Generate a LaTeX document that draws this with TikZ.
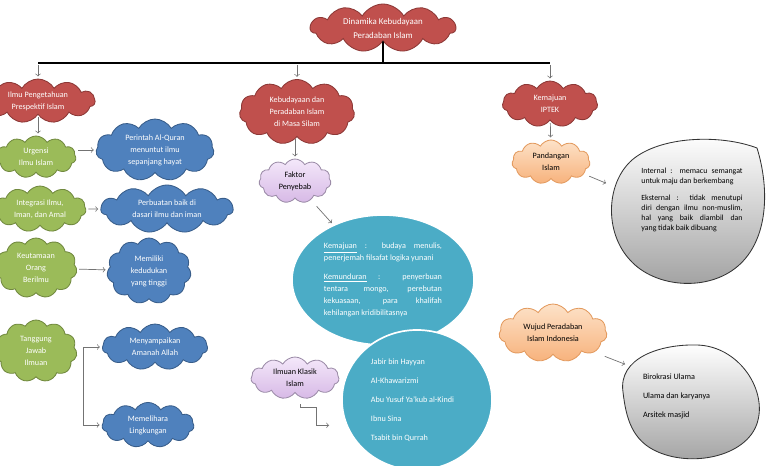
\documentclass[tikz,border=0pt]{standalone}
\usepackage{fontspec}
\setmainfont{Carlito}
\usepackage{tikz}
\usetikzlibrary{shapes.symbols,shapes.geometric,arrows}
\definecolor{merahisi}{HTML}{C0504D}
\definecolor{merahgaris}{HTML}{8C3836}
\definecolor{hijauisi}{HTML}{9BBB59}
\definecolor{hijaugaris}{HTML}{71893F}
\definecolor{biruisi}{HTML}{4F81BD}
\definecolor{birugaris}{HTML}{385D8A}
\definecolor{unguatas}{HTML}{F4E8FA}
\definecolor{ungubawah}{HTML}{D7B9E6}
\definecolor{ungugaris}{HTML}{9C8CA8}
\definecolor{oranyeatas}{HTML}{FDE2C8}
\definecolor{oranyebawah}{HTML}{F7B27C}
\definecolor{oranyegaris}{HTML}{E39A5E}
\definecolor{toscaisi}{HTML}{4BACC6}
\newcommand\kecil{\fontsize{5.8}{8.5}\selectfont}
\newcommand\sedang{\fontsize{6.3}{10}\selectfont}
\newcommand\rapat{\fontsize{5.6}{7.2}\selectfont}
\tikzset{
  awan/.style={cloud,cloud puffs=11,cloud puff arc=120,cloud ignores aspect,draw,line width=0.6pt,align=center,inner sep=0pt,font=\kecil},
  merah/.style={awan,fill=merahisi,draw=merahgaris,text=white},
  hijau/.style={awan,fill=hijauisi,draw=hijaugaris,text=white},
  biru/.style={awan,fill=biruisi,draw=birugaris,text=white},
  ungu/.style={awan,top color=unguatas,bottom color=ungubawah,draw=ungugaris},
  oranye/.style={awan,top color=oranyeatas,bottom color=oranyebawah,draw=oranyegaris},
  tosca/.style={ellipse,fill=toscaisi,draw=white,line width=1.2pt,text=white,font=\kecil,inner sep=0pt},
  abuabu/.style={top color=white,bottom color=black!38,draw=black!80,line width=0.6pt},
  panah/.style={->,draw=black!55,line width=0.5pt,shorten >=1.5pt,shorten <=1.5pt},
  garis/.style={draw=black,line width=1.1pt},
}
\begin{document}
\begin{tikzpicture}[x=0.025cm,y=-0.025cm]
    \useasboundingbox (0,0) rectangle (768,466);
    \node[merah,minimum width=3.63cm,minimum height=1.2cm,font=\sedang] (dinamika) at (383,28) {Dinamika Kebudayaan\\Peradaban Islam};
    \coordinate (bagi) at (383,63);
    \node[merah,minimum width=2.85cm,minimum height=1.1cm] (ilmu) at (38,101) {Ilmu Pengetahuan\\Prespektif Islam};
    \node[merah,minimum width=2.88cm,minimum height=1.63cm] (budaya) at (297,112) {Kebudayaan dan\\Peradaban Islam\\di Masa Silam};
    \node[merah,minimum width=2.38cm,minimum height=1.15cm] (iptek) at (550,104) {Kemajuan\\IPTEK};
    \draw[garis] (dinamika.south) -- (bagi);
    \draw[garis] (ilmu.north |- bagi) -- (iptek.north |- bagi);
    \draw[panah] (ilmu.north |- bagi) -- (ilmu.north);
    \draw[panah] (budaya.north |- bagi) -- (budaya.north);
    \draw[panah] (iptek.north |- bagi) -- (iptek.north);
    % cabang kiri
    \node[hijau,minimum width=2cm,minimum height=1.05cm] (urgensi) at (36,157) {Urgensi\\Ilmu Islam};
    \node[biru,minimum width=2.95cm,minimum height=1.55cm] (perintah) at (155,150) {Perintah Al-Quran\\menuntut ilmu\\sepanjang hayat};
    \node[hijau,minimum width=2.3cm,minimum height=1.15cm] (integrasi) at (40,209) {Integrasi Ilmu,\\Iman, dan Amal};
    \node[biru,minimum width=3.3cm,minimum height=1.2cm] (perbuatan) at (167,209) {Perbuatan baik di\\dasari ilmu dan iman};
    \node[hijau,minimum width=2.05cm,minimum height=1.5cm] (keutamaan) at (36,268) {Keutamaan\\Orang\\Berilmu};
    \node[biru,minimum width=2.1cm,minimum height=1.65cm] (memiliki) at (149,271) {Memiliki\\kedudukan\\yang tinggi};
    \node[hijau,minimum width=2.05cm,minimum height=1.55cm] (tanggung) at (36,351) {Tanggung\\Jawab\\Ilmuan};
    \node[biru,minimum width=2.63cm,minimum height=1.15cm] (amanah) at (155,347) {Menyampaikan\\Amanah Allah};
    \node[biru,minimum width=2.3cm,minimum height=1.13cm] (lingkungan) at (148,425) {Memelihara\\Lingkungan};
    \draw[panah] (ilmu.south) -- (ilmu.south |- urgensi.north);
    \draw[panah] (perintah.west -| urgensi.east) -- (perintah.west);
    \draw[panah] (integrasi) -- (perbuatan);
    \draw[panah] (keutamaan) -- (memiliki);
    \coordinate (tj) at (83,387);
    \draw[panah,shorten <=0pt] (tj) |- (amanah.west);
    \draw[panah,shorten <=0pt] (tj) |- (lingkungan.west);
    % cabang tengah
    \node[ungu,minimum width=1.8cm,minimum height=1.1cm] (faktor) at (295,181) {Faktor\\Penyebab};
    \draw[panah] (faktor.north |- budaya.south) -- (faktor.north);
    \node[tosca,minimum width=4.55cm,minimum height=3.25cm,text width=2.95cm,align=justify] (sebab) at (383,280)
      {\underline{Kemajuan} : budaya menulis,\linebreak penerjemah filsafat logika yunani\par\vspace{5pt}
       \underline{Kemunduran} : penyerbuan\linebreak tentara mongo, perebutan\linebreak kekuasaan, para khalifah\linebreak kehilangan kridibilitasnya};
    \draw[panah,shorten <=6pt] (faktor.-50) -- (sebab.132);
    \node[ungu,minimum width=2.2cm,minimum height=1.05cm] (klasik) at (295,378) {Ilmuan Klasik\\Islam};
    \node[tosca,minimum width=3.75cm,minimum height=3.5cm,text width=2.3cm,align=flush left] (tokoh) at (417,400)
      {Jabir bin Hayyan\\[5pt]Al-Khawarizmi\\[5pt]Abu Yusuf Ya'kub al-Kindi\\[5pt]Ibnu Sina\\[5pt]Tsabit bin Qurrah};
    \draw[panah,shorten <=5pt] (klasik.-75) -- ++(0,10) -| ++(16,18) -- ++(15,0);
    % cabang kanan
    \node[oranye,minimum width=1.95cm,minimum height=1.1cm] (pandangan) at (551,162) {Pandangan\\Islam};
    \draw[panah] (iptek) -- (pandangan);
    \path[abuabu] (757,148) .. controls (770,190) and (768,240) .. (738,266) .. controls (708,292) and (655,288) .. (630,260)
      .. controls (604,232) and (606,183) .. (632,160) .. controls (660,136) and (720,134) .. (757,148) -- cycle;
    \node[font=\rapat,text width=2.53cm,align=justify,inner sep=0pt] (isipandangan) at (692,200)
      {Internal : memacu semangat\linebreak untuk maju dan berkembang\par\vspace{5pt}
       Eksternal : tidak menutupi\linebreak diri dengan ilmu non-muslim,\linebreak hal yang baik diambil dan\linebreak yang tidak baik dibuang};
    \coordinate (abu1) at (608,184);
    \draw[panah,shorten <=4pt] (pandangan.-20) -- (abu1);
    \node[oranye,minimum width=2.7cm,minimum height=1.45cm] (wujud) at (553,333) {Wujud Peradaban\\Islam Indonesia};
    \path[abuabu] (623,392) .. controls (618,358) and (660,344) .. (697,345) .. controls (738,346) and (766,388) .. (758,420)
      .. controls (750,455) and (695,468) .. (658,452) .. controls (632,441) and (626,418) .. (623,392) -- cycle;
    \node[font=\kecil,text width=2cm,align=flush left,inner sep=0pt] (isiwujud) at (683,396)
      {Birokrasi Ulama\\[5pt]Ulama dan karyanya\\[5pt]Arsitek masjid};
    \coordinate (abu2) at (627,365);
    \draw[panah,shorten <=8pt] (wujud.-25) -- (abu2);
\end{tikzpicture}
\end{document}
